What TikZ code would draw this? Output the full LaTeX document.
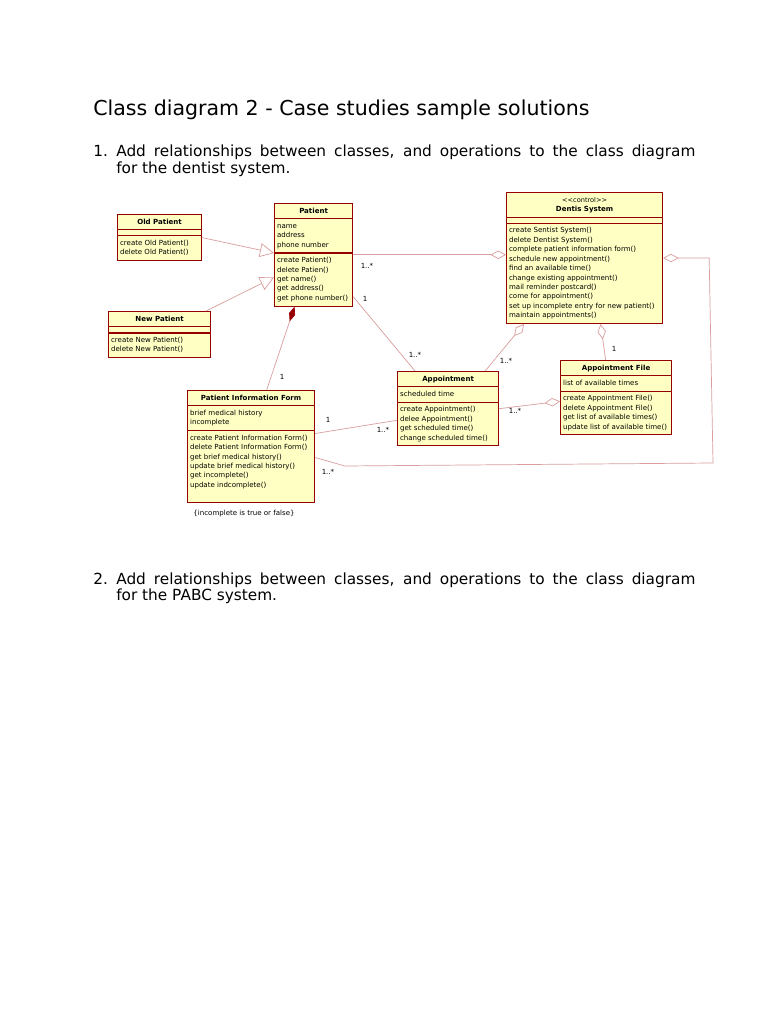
\documentclass[tikz,border=0pt]{standalone}
\usepackage{fontspec}
\setmainfont{DejaVu Sans}
\newfontfamily\umlfont{DejaVu Sans}
\usetikzlibrary{shapes.multipart,arrows.meta}
\definecolor{classfill}{RGB}{255,255,196}
\definecolor{classline}{RGB}{150,0,0}
\definecolor{linkline}{RGB}{218,158,158}
\newcommand{\classname}[1]{\begin{tabular}{@{}c@{}}#1\end{tabular}}
\newcommand{\members}[1]{\begin{tabular}{@{}l@{}}#1\end{tabular}}
\newcommand{\nomembers}{\rule{0pt}{0.1pt}}
\tikzset{
  umlclass/.style={rectangle split, rectangle split parts=3, rectangle split part align={center,left,left},
    draw=classline, fill=classfill, line width=0.8pt, anchor=north west,
    inner xsep=1.8pt, inner ysep=1.7pt, minimum width=#1, font=\umlfont\fontsize{5}{6.7}\selectfont},
  link/.style={draw=linkline, line width=0.5pt},
  aggr/.style={link, {Diamond[open, length=11pt, width=6pt]}-},
  comp/.style={link, {Diamond[length=11pt, width=4.5pt, color=classline]}-},
  gener/.style={link, -{Triangle[open, length=10pt, width=10pt]}},
  mult/.style={font=\umlfont\fontsize{5}{6.7}\selectfont, inner sep=0pt},
  pagetext/.style={anchor=base west, inner sep=0pt, font=\fontsize{10.9}{12}\selectfont}
}
\begin{document}
\begin{tikzpicture}[x=0.025cm, y=-0.025cm]
\fill[white] (0,0) rectangle (768,1024);
\node[pagetext, font=\fontsize{14.6}{17}\selectfont] (title) at (93,116) {Class diagram 2 - Case studies sample solutions};
\node[pagetext] (num1) at (93,157) {1.};
\node[pagetext, text width=14.475cm, align=justify] (task1) at (116,157) {Add relationships between classes, and operations to the class diagram\linebreak for the dentist system.};
\node[pagetext] (num2) at (93,584) {2.};
\node[pagetext, text width=14.475cm, align=justify] (task2) at (116,584) {Add relationships between classes, and operations to the class diagram\linebreak for the PABC system.};

\node[umlclass=2.1cm] (oldpatient) at (117,214) {\classname{\textbf{Old Patient}}\nodepart{two}\nomembers\nodepart{three}\members{create Old Patient()\\delete Old Patient()}};
\node[umlclass=1.95cm] (patient) at (274,203) {\classname{\textbf{Patient}}\nodepart{two}\members{name\\address\\phone number}\nodepart{three}\members{create Patient()\\delete Patien()\\get name()\\get address()\\get phone number()}};
\node[umlclass=2.55cm] (newpatient) at (108,311) {\classname{\textbf{New Patient}}\nodepart{two}\nomembers\nodepart{three}\members{create New Patient()\\delete New Patient()}};
\node[umlclass=3.9cm] (dentis) at (506,192) {\classname{{\fontsize{4.7}{5}\selectfont <{}<control>{}>}\\\textbf{Dentis System}}\nodepart{two}\nomembers\nodepart{three}\members{create Sentist System()\\delete Dentist System()\\complete patient information form()\\schedule new appointment()\\find an available time()\\change existing appointment()\\mail reminder postcard()\\come for appointment()\\set up incomplete entry for new patient()\\maintain appointments()}};
\node[umlclass=2.525cm] (appointment) at (397,371) {\classname{\textbf{Appointment}}\nodepart{two}\members{scheduled time}\nodepart{three}\members{create Appointment()\\delee Appointment()\\get scheduled time()\\change scheduled time()}};
\node[umlclass=2.775cm] (apptfile) at (560,360) {\classname{\textbf{Appointment File}}\nodepart{two}\members{list of available times}\nodepart{three}\members{create Appointment File()\\delete Appointment File()\\get list of available times()\\update list of available time()}};
\node[umlclass=3.175cm] (pif) at (187,390) {\classname{\textbf{Patient Information Form}}\nodepart{two}\members{brief medical history\\incomplete}\nodepart{three}\members{create Patient Information Form()\\delete Patient Information Form()\\get brief medical history()\\update brief medical history()\\get incomplete()\\update indcomplete()\\ \mbox{}}};
\node[mult] (constraint) at (244,514) {\{incomplete is true or false\}};

\draw[gener] (oldpatient.east) -- (patient.two split west);
\draw[gener] ([xshift=-0.125cm]newpatient.north east) -- ([yshift=-0.5625cm]patient.west);
\draw[aggr] (dentis.west |- patient.east) -- (patient.east);
\draw[link] ([yshift=0.25cm]patient.south east) -- ([xshift=0.45cm]appointment.north west);
\draw[comp] ([xshift=-0.475cm]patient.south) -- ([xshift=0.39cm]pif.north);
\draw[aggr] ([xshift=0.45cm]dentis.south west) -- ([xshift=-0.35cm]appointment.north east);
\draw[aggr] ([xshift=0.4cm]dentis.south) -- ([xshift=-0.26cm]apptfile.north);
\draw[aggr] ([yshift=-0.09cm]apptfile.west) -- (appointment.east);
\draw[link] ([yshift=0.325cm]pif.east) -- ([yshift=-0.29cm]appointment.west);
\draw[aggr] (dentis.east) -- ++(46,0) -- (713,463) -- (345,466) -- ([yshift=-0.275cm]pif.east);

\node[mult] (m1) at (367,266) {1..*};
\node[mult] (m2) at (365,299) {1};
\node[mult] (m3) at (415,355) {1..*};
\node[mult] (m4) at (282,377) {1};
\node[mult] (m5) at (506,361) {1..*};
\node[mult] (m6) at (614,349) {1};
\node[mult] (m7) at (515,411) {1..*};
\node[mult] (m8) at (328,420) {1};
\node[mult] (m9) at (383,430) {1..*};
\node[mult] (m10) at (328,472) {1..*};
\end{tikzpicture}
\end{document}
